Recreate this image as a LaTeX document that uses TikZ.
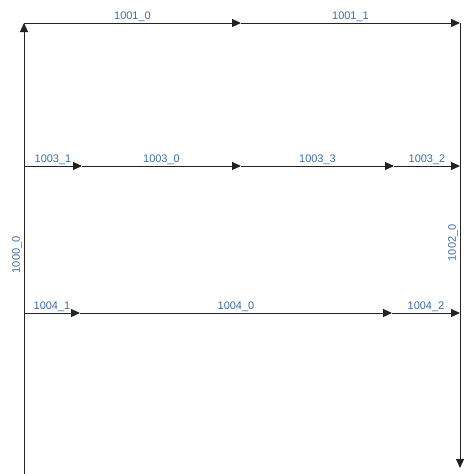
\documentclass[tikz,border=0pt]{standalone}
\usepackage{fontspec}
\setmainfont{Liberation Sans}
\usetikzlibrary{arrows.meta}
\definecolor{lbl}{HTML}{3C6EA8}
\definecolor{ln}{HTML}{222222}
\tikzset{
  conn/.style={draw=ln, line width=1pt, -{Triangle[length=9pt,width=8pt]}},
  lab/.style={text=lbl, font=\fontsize{11pt}{12pt}\selectfont, inner sep=1.5pt},
}
\begin{document}
\begin{tikzpicture}[x=1pt,y=-1pt]
\useasboundingbox (0,0) rectangle (474,474);
\coordinate (A) at (24,474);
\coordinate (B) at (24,23);
\coordinate (C) at (241,23);
\coordinate (D) at (460,23);
\coordinate (E) at (460,468);
\coordinate (M0) at (24,166);
\coordinate (M1) at (82,166);
\coordinate (M2) at (241,166);
\coordinate (M3) at (394,166);
\coordinate (M4) at (460,166);
\coordinate (L0) at (24,313);
\coordinate (L1) at (80,313);
\coordinate (L2) at (392,313);
\coordinate (L3) at (460,313);
\draw[conn] (A) -- (B) node[lab, pos=0.486, rotate=90, anchor=south] {1000\_0};
\draw[conn] (B) -- (C) node[lab, midway, above, yshift=-1pt] {1001\_0};
\draw[conn] (C) -- (D) node[lab, midway, above, yshift=-1pt] {1001\_1};
\draw[conn] (D) -- (E) node[lab, pos=0.494, rotate=90, anchor=south] {1002\_0};
\draw[conn] (M0) -- (M1) node[lab, midway, above, yshift=-1pt] {1003\_1};
\draw[conn] (M1) -- (M2) node[lab, midway, above, yshift=-1pt] {1003\_0};
\draw[conn] (M2) -- (M3) node[lab, midway, above, yshift=-1pt] {1003\_3};
\draw[conn] (M3) -- (M4) node[lab, midway, above, yshift=-1pt] {1003\_2};
\draw[conn] (L0) -- (L1) node[lab, midway, above, yshift=-1pt] {1004\_1};
\draw[conn] (L1) -- (L2) node[lab, midway, above, yshift=-1pt] {1004\_0};
\draw[conn] (L2) -- (L3) node[lab, midway, above, yshift=-1pt] {1004\_2};
\end{tikzpicture}
\end{document}
